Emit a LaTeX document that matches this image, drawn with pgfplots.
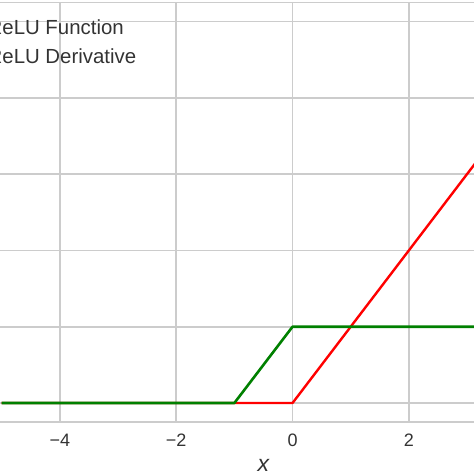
\documentclass[border=0pt]{standalone}
\usepackage{fontspec}
\setmainfont{Liberation Sans}
\usepackage{pgfplots}
\pgfplotsset{compat=1.18}
\definecolor{gridgray}{HTML}{CCCCCC}
\definecolor{txt}{HTML}{333333}
\definecolor{mplred}{HTML}{FF0000}
\definecolor{mplgreen}{HTML}{008000}
\begin{document}
\begin{tikzpicture}
\useasboundingbox (0,0) rectangle (474pt,474pt);
\clip (0,0) rectangle (474pt,474pt);
\begin{axis}[
    scale only axis,
    width=575.9pt, height=419.7pt,
    at={(-24.5pt,51.9pt)}, anchor=south west,
    xmin=-5.45, xmax=4.45,
    ymin=-0.25, ymax=5.25,
    xtick={-4,-2,0,2,4},
    xticklabels={−4,−2,0,2,4},
    ytick={0,1,2,3,4,5},
    yticklabels={},
    major tick length=0pt,
    grid=major,
    grid style={draw=gridgray, line width=1.8pt},
    axis line style={draw=gridgray, line width=1.8pt},
    x tick label style={font=\fontsize{18}{21}\selectfont, text=txt, anchor=base, yshift=-24.6pt},
    xlabel={\itshape x},
    xlabel style={at={(axis description cs:0.5,0)}, anchor=base, yshift=-49.6pt,
        font=\fontsize{23}{26}\selectfont, text=txt},
]
\addplot[mplred, line width=2.4pt, line join=round] coordinates {
    (-5,0) (-4,0) (-3,0) (-2,0) (-1,0) (0,0) (1,1) (2,2) (3,3) (4,4)
};
\addplot[mplgreen, line width=2.6pt, line join=round] coordinates {
    (-5,0) (-4,0) (-3,0) (-2,0) (-1,0) (0,1) (1,1) (2,1) (3,1) (4,1)
};
\end{axis}
\node[anchor=base west, inner sep=0pt, text=txt, font=\fontsize{20.4}{24}\selectfont] at (-12.5pt,439pt) {ReLU Function};
\node[anchor=base west, inner sep=0pt, text=txt, font=\fontsize{20.4}{24}\selectfont] at (-12.5pt,410.7pt) {ReLU Derivative};
\end{tikzpicture}
\end{document}
